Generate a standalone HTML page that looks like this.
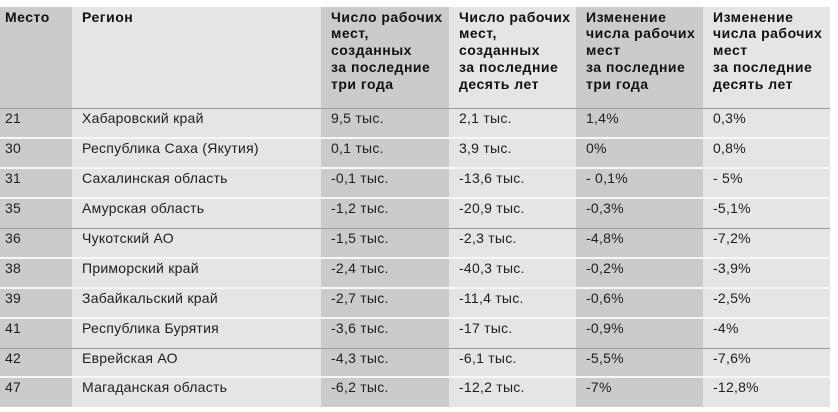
<!DOCTYPE html>
<html><head><meta charset="utf-8">
<style>
html,body{margin:0;padding:0;background:#fff;}
body{width:838px;height:412px;position:relative;overflow:hidden;font-family:"Liberation Sans","Noto Sans CJK SC",sans-serif;}
.col{position:absolute;top:7px;height:400px;}
.d{background:#cbcbcb;}
.l{background:#e5e5e5;}
.line{position:absolute;left:0;width:830px;}
.w{height:2px;background:#f7f7f7;}
.g{height:1px;background:#9c9c9c;}
.h{position:absolute;top:8.7px;font-weight:bold;font-size:14px;letter-spacing:0.5px;line-height:16.7px;color:#111;white-space:nowrap;}
.r{position:absolute;font-size:14px;letter-spacing:0.25px;line-height:17px;color:#1e1e1e;white-space:nowrap;}
</style></head><body>
<div class="col d" style="left:0;width:72px"></div>
<div class="col l" style="left:72px;width:249px"></div>
<div class="col d" style="left:321px;width:128px"></div>
<div class="col l" style="left:449px;width:127px"></div>
<div class="col d" style="left:576px;width:127px"></div>
<div class="col l" style="left:703px;width:127px"></div>

<div class="line g" style="top:108px"></div>
<div class="line w" style="top:137px"></div>
<div class="line w" style="top:167px"></div>
<div class="line w" style="top:197px"></div>
<div class="line g" style="top:228px"></div>
<div class="line w" style="top:257px"></div>
<div class="line w" style="top:287px"></div>
<div class="line w" style="top:317px"></div>
<div class="line g" style="top:348px"></div>
<div class="line w" style="top:376px"></div>

<div class="h" style="left:5px">Место</div>
<div class="h" style="left:82px">Регион</div>
<div class="h" style="left:331px">Число рабочих<br>мест,<br>созданных<br>за последние<br>три года</div>
<div class="h" style="left:459px">Число рабочих<br>мест,<br>созданных<br>за последние<br>десять лет</div>
<div class="h" style="left:586px">Изменение<br>числа рабочих<br>мест<br>за последние<br>три года</div>
<div class="h" style="left:713px">Изменение<br>числа рабочих<br>мест<br>за последние<br>десять лет</div>

<div class="r" style="top:110px;left:5px">21</div><div class="r" style="top:110px;left:82px">Хабаровский край</div><div class="r" style="top:110px;left:331px">9,5 тыс.</div><div class="r" style="top:110px;left:459px">2,1 тыс.</div><div class="r" style="top:110px;left:586px">1,4%</div><div class="r" style="top:110px;left:713px">0,3%</div>
<div class="r" style="top:140px;left:5px">30</div><div class="r" style="top:140px;left:82px">Республика Саха (Якутия)</div><div class="r" style="top:140px;left:331px">0,1 тыс.</div><div class="r" style="top:140px;left:459px">3,9 тыс.</div><div class="r" style="top:140px;left:586px">0%</div><div class="r" style="top:140px;left:713px">0,8%</div>
<div class="r" style="top:170px;left:5px">31</div><div class="r" style="top:170px;left:82px">Сахалинская область</div><div class="r" style="top:170px;left:331px">-0,1 тыс.</div><div class="r" style="top:170px;left:459px">-13,6 тыс.</div><div class="r" style="top:170px;left:586px">- 0,1%</div><div class="r" style="top:170px;left:713px">- 5%</div>
<div class="r" style="top:200px;left:5px">35</div><div class="r" style="top:200px;left:82px">Амурская область</div><div class="r" style="top:200px;left:331px">-1,2 тыс.</div><div class="r" style="top:200px;left:459px">-20,9 тыс.</div><div class="r" style="top:200px;left:586px">-0,3%</div><div class="r" style="top:200px;left:713px">-5,1%</div>
<div class="r" style="top:230px;left:5px">36</div><div class="r" style="top:230px;left:82px">Чукотский АО</div><div class="r" style="top:230px;left:331px">-1,5 тыс.</div><div class="r" style="top:230px;left:459px">-2,3 тыс.</div><div class="r" style="top:230px;left:586px">-4,8%</div><div class="r" style="top:230px;left:713px">-7,2%</div>
<div class="r" style="top:260px;left:5px">38</div><div class="r" style="top:260px;left:82px">Приморский край</div><div class="r" style="top:260px;left:331px">-2,4 тыс.</div><div class="r" style="top:260px;left:459px">-40,3 тыс.</div><div class="r" style="top:260px;left:586px">-0,2%</div><div class="r" style="top:260px;left:713px">-3,9%</div>
<div class="r" style="top:290px;left:5px">39</div><div class="r" style="top:290px;left:82px">Забайкальский край</div><div class="r" style="top:290px;left:331px">-2,7 тыс.</div><div class="r" style="top:290px;left:459px">-11,4 тыс.</div><div class="r" style="top:290px;left:586px">-0,6%</div><div class="r" style="top:290px;left:713px">-2,5%</div>
<div class="r" style="top:320px;left:5px">41</div><div class="r" style="top:320px;left:82px">Республика Бурятия</div><div class="r" style="top:320px;left:331px">-3,6 тыс.</div><div class="r" style="top:320px;left:459px">-17 тыс.</div><div class="r" style="top:320px;left:586px">-0,9%</div><div class="r" style="top:320px;left:713px">-4%</div>
<div class="r" style="top:350px;left:5px">42</div><div class="r" style="top:350px;left:82px">Еврейская АО</div><div class="r" style="top:350px;left:331px">-4,3 тыс.</div><div class="r" style="top:350px;left:459px">-6,1 тыс.</div><div class="r" style="top:350px;left:586px">-5,5%</div><div class="r" style="top:350px;left:713px">-7,6%</div>
<div class="r" style="top:379px;left:5px">47</div><div class="r" style="top:379px;left:82px">Магаданская область</div><div class="r" style="top:379px;left:331px">-6,2 тыс.</div><div class="r" style="top:379px;left:459px">-12,2 тыс.</div><div class="r" style="top:379px;left:586px">-7%</div><div class="r" style="top:379px;left:713px">-12,8%</div>
</body></html>
